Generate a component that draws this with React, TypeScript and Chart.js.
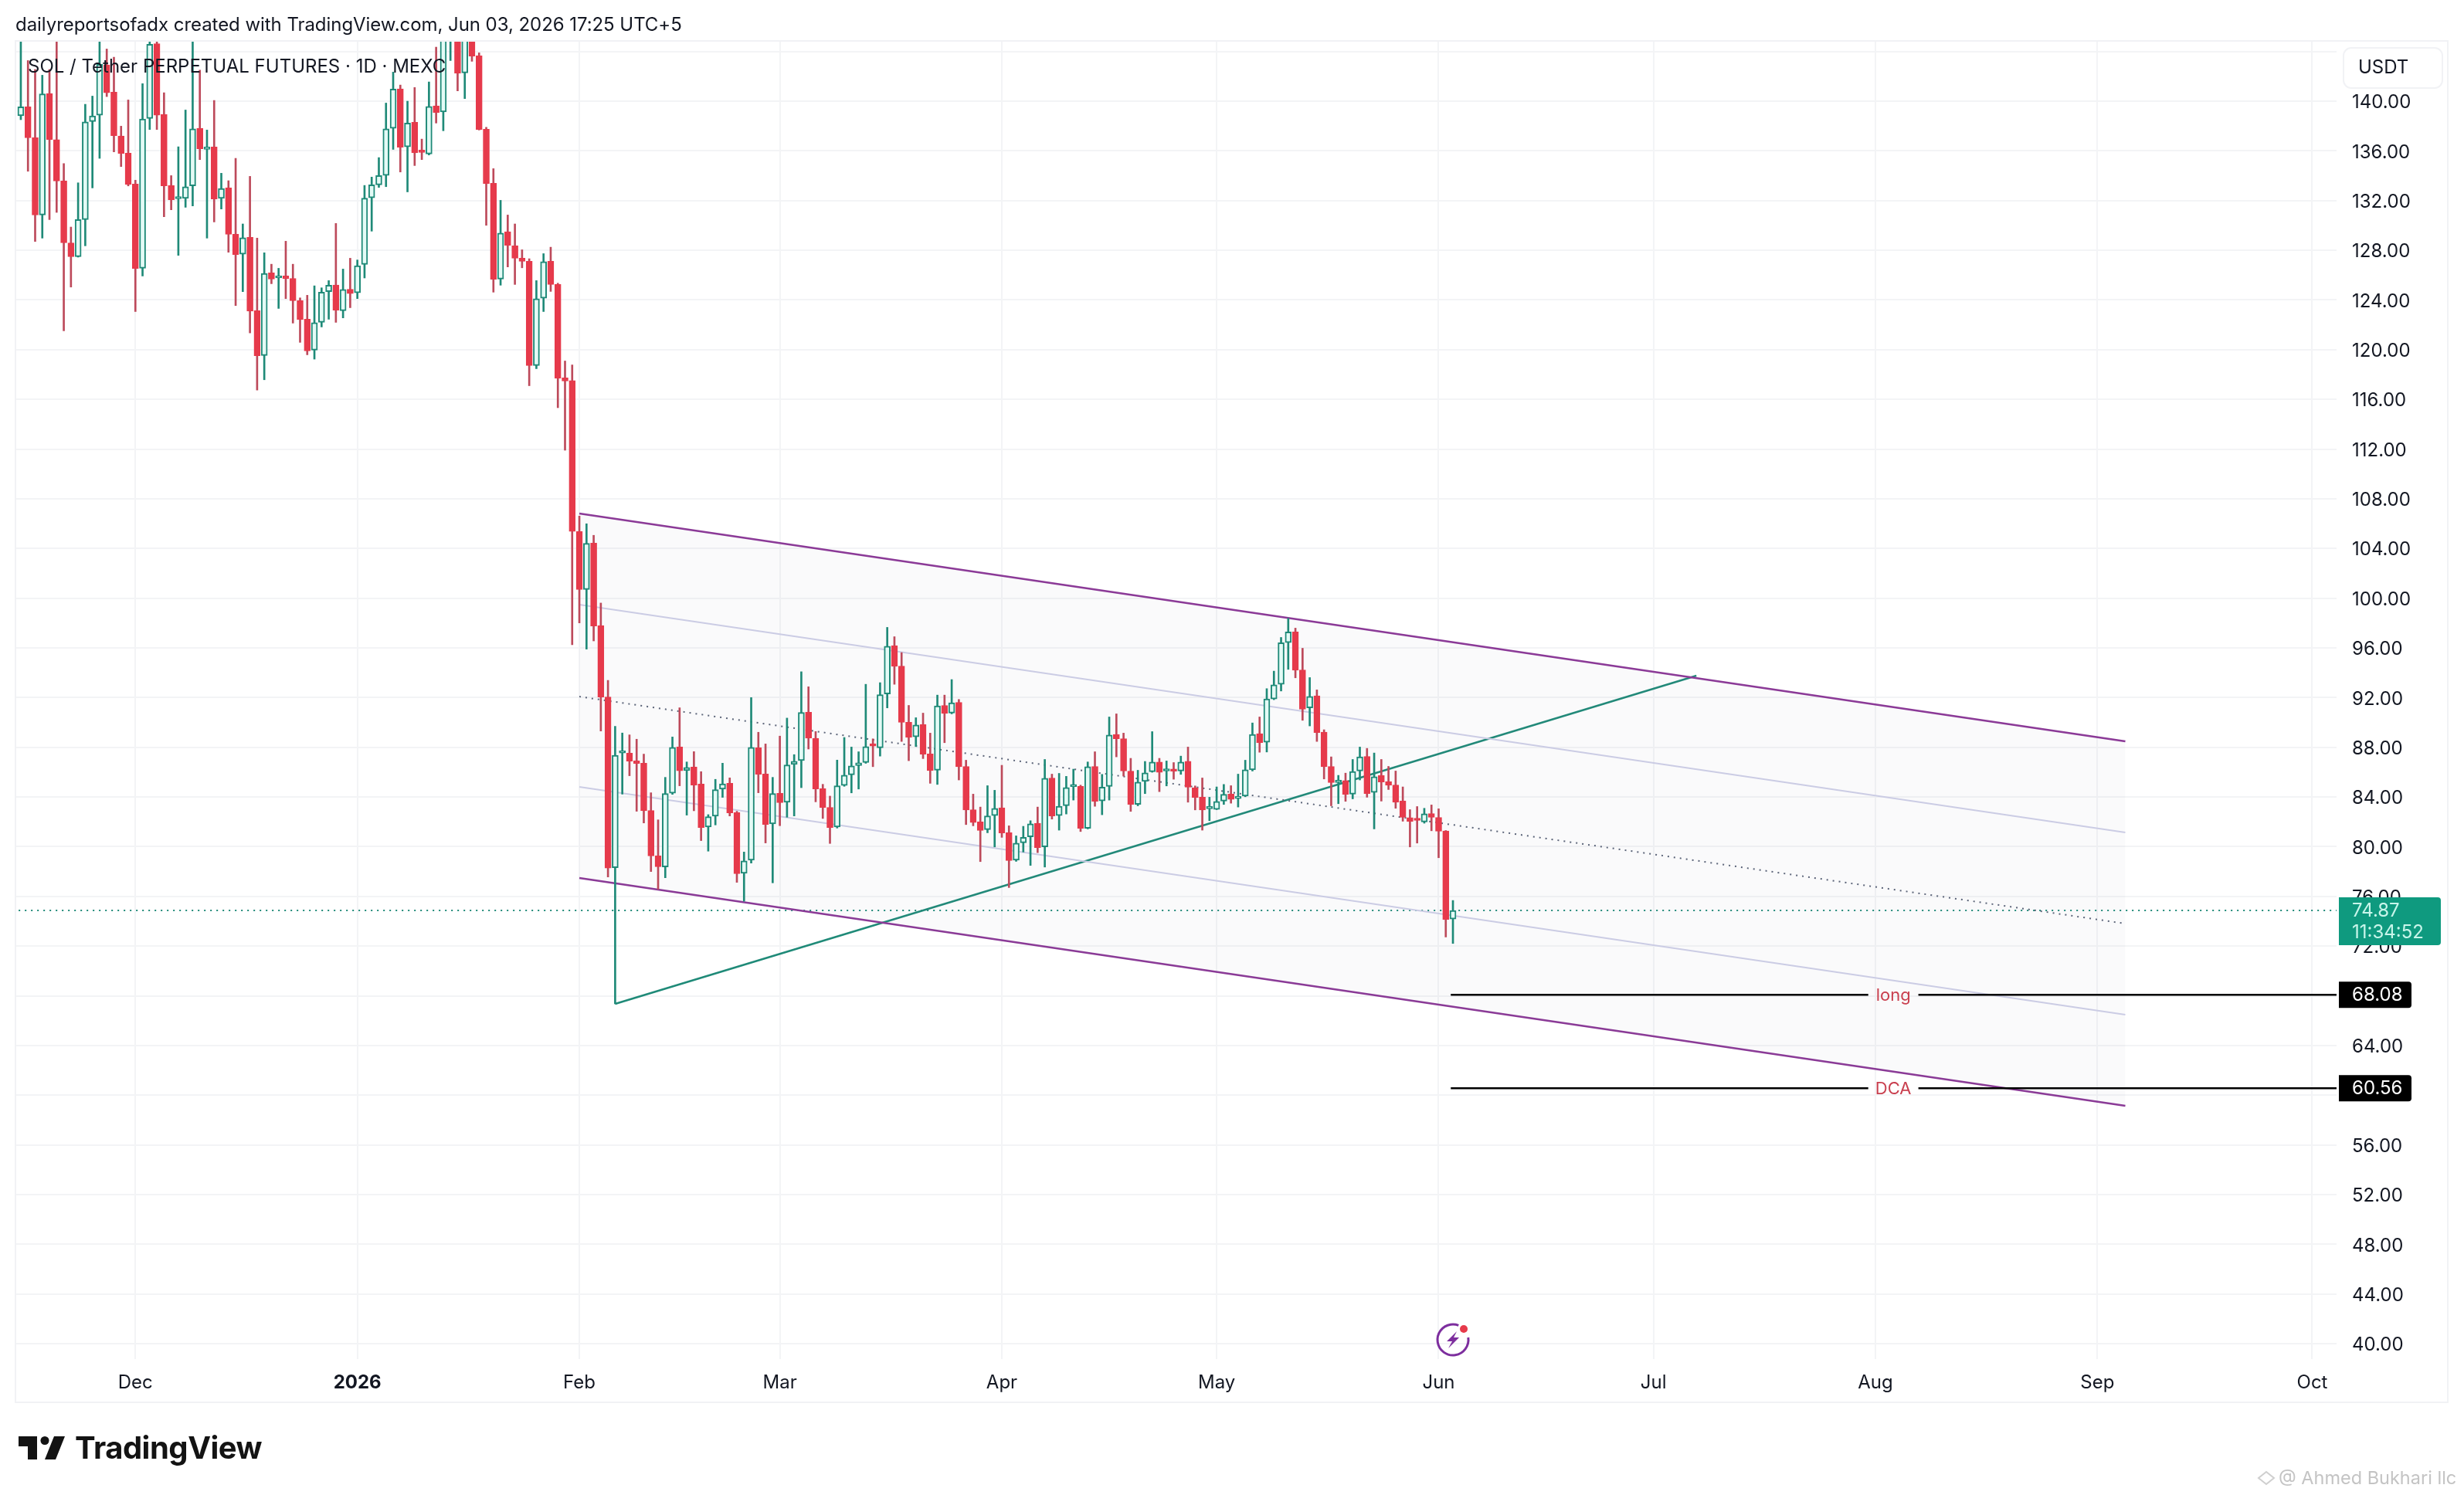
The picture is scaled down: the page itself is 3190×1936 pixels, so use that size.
import React, { useEffect, useRef } from "react";
import { Chart, registerables } from "chart.js";

Chart.register(...registerables);

// days are counted from Feb 1 2026, first candle sits 78 days before it
const firstDay = -78;

const opens = [
  138.82, 139.54, 137.06, 130.84, 140.62, 136.91, 133.58, 128.6, 127.49, 130.47, 138.36, 138.88, 142.92, 140.72, 137.2, 135.81, 133.33, 126.55, 138.61, 144.62,
  138.92, 133.2, 132.14, 132.17, 133.18, 137.8, 136.12, 136.31, 132.17, 133.02, 129.29, 127.69, 129.04, 123.14, 119.53, 126.18, 125.77, 125.93, 125.74, 123.94, 122.45,
  119.97, 122.2, 124.67, 125.21, 123.14, 124.87, 124.58, 126.86, 132.23, 133.27, 134.03, 137.82, 140.99, 136.33, 138.3, 135.92, 135.75, 139.63, 139.13, 146.8, 147.5, 142.28, 147, 143.66, 137.74, 133.39, 125.68, 129.49, 128.36, 127.36, 127.11, 118.72, 124.15, 127.11, 125.25, 117.73, 117.52,
  105.37, 100.7, 104.43, 97.8, 92.05, 78.31, 87.53, 87.53, 86.91, 86.72,
  82.91, 79.26, 78.37, 84.3, 88.02, 86.12, 86.41, 85.04, 81.58, 82.45,
  84.63, 85.1, 82.74, 77.85, 78.91, 87.96, 85.85, 81.83, 84.3, 83.57,
  86.62, 86.93, 90.82, 88.73, 84.67, 83.16, 81.58, 84.92, 85.78, 86.53,
  86.77, 88.14, 87.95, 92.29, 96.18, 94.54, 90.01, 88.85, 89.82, 87.46,
  86.15, 91.37, 90.75, 91.62, 86.46, 82.98, 81.99, 81.37, 82.51, 83.13,
  81.12, 78.92, 80.31, 80.79, 81.88, 79.98, 85.53, 82.51, 83.29, 84.83,
  84.85, 81.47, 86.46, 83.69, 84.85, 89.03, 88.7, 86.09, 83.4, 85.26,
  86.03, 86.82, 86.09, 86.13, 86.09, 86.88, 84.74, 83.98, 83.05, 83.0,
  83.67, 84.23, 83.87, 84.08, 86.19, 89.09, 88.41, 91.89, 93.07, 96.43,
  97.28, 94.23, 91.17, 92.14, 89.22, 86.46, 85.16, 85.32, 84.23, 86.09,
  87.27, 84.37, 85.72, 85.24, 84.97, 83.67, 82.34, 82.17, 81.99, 82.67,
  82.36, 81.27, 74.18,
];

const highs = [
  145.5, 143.27, 142.55, 142.09, 142.55, 145.5, 134.98, 129.87, 133.43, 139.75, 140.41, 145.5, 144.2, 143.54, 137.99, 140.1, 133.64, 141.41, 145.5, 145.5,
  140.68, 134.01, 136.33, 139.29, 145.5, 142.5, 137.68, 140.06, 134.2, 133.6, 135.4, 130.12, 133.95, 128.98, 127.8, 126.88, 126.55, 128.73, 126.88, 124.17, 124.38,
  125.14, 124.98, 125.56, 130.16, 126.49, 127.36, 127.22, 133.22, 133.89, 135.46, 139.85, 142.34, 141.3, 140.0, 141.1, 136.95, 141.55, 144.35, 147.5, 149, 149.5, 149, 148, 143.89, 137.9, 134.57, 132.02, 130.84, 130.12, 128.04, 127.32, 125.56, 127.73, 128.25, 125.35, 119.09, 118.78,
  106.61, 105.99, 105.06, 99.61, 93.39, 89.68, 89.15, 89.0, 88.65, 87.45,
  84.34, 82.16, 85.58, 88.83, 91.18, 86.82, 87.65, 86.04, 82.58, 85.42,
  86.72, 85.54, 82.85, 79.57, 92.0, 89.21, 88.27, 85.58, 88.9, 90.35,
  87.41, 94.08, 92.87, 89.27, 85.02, 84.07, 86.97, 88.79, 88.02, 87.64,
  93.07, 88.68, 93.2, 97.65, 96.9, 95.62, 91.37, 90.38, 90.75, 89.14,
  92.2, 92.2, 93.45, 91.85, 86.96, 84.23, 83.19, 84.91, 84.54, 86.55,
  81.68, 80.87, 81.64, 82.09, 83.19, 87.02, 85.84, 85.9, 85.66, 86.24,
  84.95, 86.82, 87.64, 85.82, 90.44, 90.69, 89.14, 87.11, 86.15, 86.86,
  89.26, 87.11, 86.9, 86.77, 87.29, 88.02, 84.89, 85.53, 83.98, 84.81,
  85.01, 84.91, 85.84, 86.96, 89.96, 90.44, 92.72, 94.13, 96.84, 98.38,
  97.59, 95.97, 93.61, 92.62, 89.41, 87.23, 85.74, 85.92, 87.02, 88.02,
  87.91, 87.54, 87.02, 86.46, 86.09, 84.81, 82.98, 83.23, 83.09, 83.36,
  83.05, 81.3, 75.67,
];

const lows = [
  138.51, 134.36, 128.71, 128.98, 130.47, 131.05, 121.52, 125.04, 127.45, 128.36, 133.02, 135.4, 140.37, 135.92, 134.74, 133.18, 123.07, 125.93, 137.72, 137.72,
  130.7, 131.26, 127.59, 131.46, 131.57, 135.3, 128.98, 130.28, 131.32, 127.84, 123.55, 124.67, 121.35, 116.75, 117.58, 125.31, 123.32, 124.11, 122.14, 120.59, 119.59,
  119.24, 121.83, 122.45, 122.2, 122.56, 123.38, 124.11, 125.77, 129.54, 133.06, 133.12, 136.12, 134.3, 132.7, 134.82, 135.3, 135.67, 138.24, 137.62, 143.27, 140.83, 140.21, 143.21, 137.68, 130.01, 124.63, 125.19, 126.66, 125.25, 126.59, 117.1, 118.47, 123.07, 124.69, 115.33, 111.91, 96.25,
  98.01, 95.9, 96.56, 89.31, 77.56, 67.35, 84.23, 85.71, 82.85, 81.91,
  78.0, 76.57, 77.5, 84.21, 84.9, 82.54, 82.89, 80.49, 79.64, 81.75,
  83.97, 82.47, 77.13, 75.61, 78.68, 84.34, 80.3, 77.09, 81.69, 82.37,
  82.47, 84.75, 87.86, 83.61, 82.27, 80.26, 81.5, 84.86, 84.33, 84.64,
  86.71, 86.44, 87.29, 91.17, 93.07, 88.47, 86.92, 88.06, 87.09, 85.1,
  85.01, 88.37, 90.69, 85.37, 81.78, 81.68, 78.8, 81.12, 79.98, 80.75,
  76.71, 78.82, 79.57, 78.49, 79.52, 78.36, 82.22, 81.33, 82.63, 83.75,
  81.22, 81.43, 83.25, 82.57, 83.75, 87.23, 85.68, 82.84, 83.29, 84.27,
  85.99, 84.43, 84.89, 85.43, 85.82, 83.58, 82.96, 81.33, 82.09, 82.98,
  83.4, 83.5, 83.19, 84.02, 86.09, 87.6, 87.62, 91.83, 92.53, 94.27,
  93.59, 90.17, 89.72, 88.47, 85.45, 83.29, 83.46, 83.65, 83.85, 85.37,
  83.98, 81.43, 83.67, 84.6, 83.09, 82.05, 79.98, 80.29, 81.89, 81.28,
  79.11, 72.73, 72.21,
];

const closes = [
  139.54, 137.06, 130.84, 140.58, 136.91, 133.58, 128.6, 127.49, 130.47, 138.34, 138.82, 142.96, 140.68, 137.22, 135.79, 133.29, 126.53, 138.57, 144.58, 138.88,
  133.18, 132.06, 132.17, 133.12, 137.78, 136.17, 136.31, 132.13, 132.97, 129.29, 127.65, 129.02, 123.11, 119.51, 126.14, 125.68, 125.91, 125.72, 123.94, 122.43, 119.9,
  122.18, 124.63, 125.19, 123.18, 124.85, 124.52, 126.76, 132.19, 133.27, 134.01, 137.78, 140.97, 136.29, 138.24, 135.85, 135.88, 139.58, 139.09, 146.5, 148, 142.24, 147.5, 143.62, 137.72, 133.37, 125.66, 129.39, 128.4, 127.36, 127.11, 118.72, 124.11, 127.09, 125.25, 117.69, 117.48, 105.38,
  100.7, 104.41, 97.76, 92.05, 78.27, 87.36, 87.59, 86.89, 86.7, 82.89,
  79.26, 78.39, 84.28, 88.0, 86.1, 86.37, 84.96, 81.54, 82.41, 84.59,
  85.06, 82.72, 77.83, 78.85, 88.0, 85.83, 81.79, 84.28, 83.55, 86.58,
  86.87, 90.8, 88.73, 84.65, 83.16, 81.54, 84.9, 85.75, 86.5, 86.75,
  88.06, 88.1, 92.24, 96.14, 94.52, 90.01, 88.8, 89.8, 87.44, 86.13,
  91.33, 90.73, 91.58, 86.44, 82.96, 81.95, 81.31, 82.47, 83.09, 81.1,
  78.88, 80.29, 80.75, 81.84, 79.92, 85.51, 82.47, 83.25, 84.76, 84.91,
  81.47, 86.44, 83.65, 84.79, 88.99, 88.68, 86.09, 83.4, 85.2, 85.95,
  86.82, 85.99, 86.13, 86.07, 86.82, 84.79, 83.96, 82.96, 83.13, 83.65,
  84.21, 83.81, 84.02, 86.19, 89.03, 88.37, 91.89, 93.03, 96.41, 97.28,
  94.21, 91.06, 92.1, 89.18, 86.44, 85.16, 85.26, 84.21, 86.05, 87.23,
  84.27, 85.63, 85.2, 84.95, 83.58, 82.36, 82.03, 82.11, 82.65, 82.36,
  81.24, 74.14, 74.87,
];

const monthDays = [-62, -31, 0, 28, 59, 89, 120, 150, 181, 212, 242];
const monthLabels = ["Dec", "2026", "Feb", "Mar", "Apr", "May", "Jun", "Jul", "Aug", "Sep", "Oct"];
const priceTicks = [40, 44, 48, 52, 56, 60, 64, 68, 72, 76, 80, 84, 88, 92, 96, 100, 104, 108, 112, 116, 120, 124, 128, 132, 136, 140, 144];
// these sit behind the currency box and the price tags in the original
const hiddenPriceLabels = [60, 68, 144];

// drawings on the chart
const channelDays = [0, 215.9];
const channelTop = [106.81, 88.48];
const channelUpperMid = [99.48, 81.14];
const channelMid = [92.08, 73.81];
const channelLowerMid = [84.81, 66.48];
const channelBottom = [77.48, 59.14];
const trendDays = [5, 156];
const trendPrices = [67.35, 93.76];
const lastPrice = 74.87;
const countdown = "11:34:52";
const longPrice = 68.08;
const dcaPrice = 60.56;
const rayDays = [121.7, 180, 187, 245.4];
const labelDay = 183.5;
const badgeDay = 122;

const FONT = "Inter, sans-serif";
const TEXT = "#131722";
const UP = "#1f8a78";
const UP_FILL = "#e4fbf6";
const DOWN = "#e63a4b";
const DOWN_WICK = "#bd4a5b";
const GRID = "#f3f4f6";

const days = opens.map((_, i) => firstDay + i);

const linePoints = (xs: number[], ys: number[]) => xs.map((x, i) => ({ x, y: ys[i] }));

const rayPoints = (price: number) => [
  { x: rayDays[0], y: price },
  { x: rayDays[1], y: price },
  { x: (rayDays[1] + rayDays[2]) / 2, y: null },
  { x: rayDays[2], y: price },
  { x: rayDays[3], y: price },
];

const lineStyle = {
  type: "line" as const,
  pointRadius: 0,
  tension: 0,
  fill: false,
  order: 5,
};

const priceTag = (ctx: CanvasRenderingContext2D, y: number, text: string) => {
  ctx.fillStyle = "#000000";
  ctx.beginPath();
  ctx.roundRect(3028, y - 17, 94, 34, [0, 4, 4, 0]);
  ctx.fill();
  ctx.fillStyle = "#ffffff";
  ctx.fillText(text, 3045, y + 1);
};

// frame, price tags, labels and the small icon are drawn on top of the chart
const overlayPlugin = {
  id: "overlay",
  afterDraw(chart: Chart) {
    const { ctx, scales } = chart;
    const x = scales.x;
    const y = scales.y;
    ctx.save();

    ctx.strokeStyle = "#f1f2f5";
    ctx.lineWidth = 2;
    ctx.strokeRect(20, 53, 3149, 1763);

    ctx.font = `22px ${FONT}`;
    ctx.textBaseline = "middle";
    ctx.textAlign = "center";
    ctx.fillStyle = "#c9404f";
    ctx.fillText("long", x.getPixelForValue(labelDay), y.getPixelForValue(longPrice) + 1);
    ctx.fillText("DCA", x.getPixelForValue(labelDay), y.getPixelForValue(dcaPrice) + 1);

    ctx.font = `24px ${FONT}`;
    ctx.textAlign = "left";
    const lastY = y.getPixelForValue(lastPrice);
    ctx.fillStyle = "#0f9a7f";
    ctx.beginPath();
    ctx.roundRect(3028, lastY - 17, 132, 62, [0, 4, 4, 0]);
    ctx.fill();
    ctx.fillStyle = "#c8f5ea";
    ctx.fillText(lastPrice.toFixed(2), 3045, lastY + 1);
    ctx.fillText(countdown, 3045, lastY + 29);

    priceTag(ctx, y.getPixelForValue(longPrice), longPrice.toFixed(2));
    priceTag(ctx, y.getPixelForValue(dcaPrice), dcaPrice.toFixed(2));

    // currency box
    ctx.fillStyle = "#ffffff";
    ctx.strokeStyle = "#f1f2f5";
    ctx.lineWidth = 2;
    ctx.beginPath();
    ctx.roundRect(3034, 62, 128, 52, 10);
    ctx.fill();
    ctx.stroke();
    ctx.fillStyle = TEXT;
    ctx.fillText("USDT", 3053, 88);

    // lightning badge
    const cx = x.getPixelForValue(badgeDay);
    const cy = y.getPixelForValue(40) - 5;
    ctx.strokeStyle = "#7d2e9e";
    ctx.lineWidth = 3;
    ctx.beginPath();
    ctx.arc(cx, cy, 20, -0.15, -1.15 + Math.PI * 2 - 0.05);
    ctx.stroke();
    ctx.fillStyle = "#7d2e9e";
    ctx.beginPath();
    ctx.moveTo(cx + 5, cy - 11);
    ctx.lineTo(cx - 8, cy + 2);
    ctx.lineTo(cx - 1, cy + 2);
    ctx.lineTo(cx - 6, cy + 11);
    ctx.lineTo(cx + 8, cy - 3);
    ctx.lineTo(cx + 1, cy - 3);
    ctx.closePath();
    ctx.fill();
    ctx.fillStyle = "#e63a4b";
    ctx.beginPath();
    ctx.arc(cx + 14, cy - 14, 5, 0, Math.PI * 2);
    ctx.fill();

    ctx.restore();
  },
};

const App = () => {
  const canvasRef = useRef<HTMLCanvasElement>(null);

  useEffect(() => {
    document.body.style.margin = "0";
    if (!canvasRef.current) return;

    const chart = new Chart(canvasRef.current, {
      type: "bar",
      plugins: [overlayPlugin],
      data: {
        datasets: [
          {
            ...lineStyle,
            data: linePoints(channelDays, channelTop),
            borderColor: "#8b3a97",
            borderWidth: 2.5,
            fill: { target: 4 },
            backgroundColor: "rgba(120,123,160,0.04)",
          },
          { ...lineStyle, data: linePoints(channelDays, channelUpperMid), borderColor: "#cfd0e8", borderWidth: 2 },
          { ...lineStyle, data: linePoints(channelDays, channelMid), borderColor: "#5b6478", borderWidth: 2, borderDash: [2, 6] },
          { ...lineStyle, data: linePoints(channelDays, channelLowerMid), borderColor: "#cfd0e8", borderWidth: 2 },
          { ...lineStyle, data: linePoints(channelDays, channelBottom), borderColor: "#8b3a97", borderWidth: 2.5 },
          { ...lineStyle, data: linePoints(trendDays, trendPrices), borderColor: UP, borderWidth: 2.5 },
          {
            ...lineStyle,
            data: linePoints([rayDays[0] - 200, rayDays[3]], [lastPrice, lastPrice]),
            borderColor: "#1f8a78",
            borderWidth: 2,
            borderDash: [2, 6],
          },
          { ...lineStyle, data: rayPoints(longPrice), borderColor: "#000000", borderWidth: 2.5, spanGaps: false, order: 0 },
          { ...lineStyle, data: rayPoints(dcaPrice), borderColor: "#000000", borderWidth: 2.5, spanGaps: false, order: 0 },
          {
            type: "bar",
            data: days.map((x, i) => ({ x, y: [lows[i], highs[i]] })),
            backgroundColor: days.map((_, i) => (closes[i] >= opens[i] ? UP : DOWN_WICK)),
            barThickness: 2,
            grouped: false,
            order: 2,
          },
          {
            type: "bar",
            data: days.map((x, i) => ({ x, y: [opens[i], closes[i]] })),
            backgroundColor: days.map((_, i) => (closes[i] >= opens[i] ? UP_FILL : DOWN)),
            borderColor: days.map((_, i) => (closes[i] >= opens[i] ? UP : DOWN)),
            borderWidth: 2,
            borderSkipped: false,
            barThickness: 8,
            minBarLength: 3,
            grouped: false,
            order: 1,
          },
        ],
      },
      options: {
        responsive: false,
        animation: false,
        devicePixelRatio: 1,
        layout: { padding: { left: 20, top: 53, right: 0, bottom: 0 } },
        plugins: {
          legend: { display: false },
          tooltip: { enabled: false },
        },
        scales: {
          x: {
            type: "linear",
            position: "bottom",
            min: -78.75,
            max: 245.4,
            offset: false,
            afterFit: (scale) => {
              scale.height = 176;
            },
            afterBuildTicks: (scale) => {
              scale.ticks = monthDays.map((value) => ({ value }));
            },
            grid: { color: GRID, lineWidth: 2, offset: false, drawTicks: false },
            border: { display: false },
            ticks: {
              autoSkip: false,
              maxRotation: 0,
              padding: 16,
              color: TEXT,
              font: (ctx) => ({ family: FONT, size: 24, weight: ctx.tick?.value === -31 ? "bold" : "normal" }),
              callback: (value) => monthLabels[monthDays.indexOf(Number(value))],
            },
          },
          y: {
            type: "linear",
            position: "right",
            min: 38.76,
            max: 144.85,
            afterFit: (scale) => {
              scale.width = 165;
            },
            afterBuildTicks: (scale) => {
              scale.ticks = priceTicks.map((value) => ({ value }));
            },
            grid: { color: GRID, lineWidth: 2, drawTicks: false },
            border: { display: false },
            ticks: {
              autoSkip: false,
              padding: 20,
              labelOffset: 2,
              color: TEXT,
              font: { family: FONT, size: 24 },
              callback: (value) => (hiddenPriceLabels.includes(Number(value)) ? "" : Number(value).toFixed(2)),
            },
          },
        },
      },
    });

    return () => {
      chart.destroy();
    };
  }, []);

  const textStyle: React.CSSProperties = {
    position: "absolute",
    fontFamily: FONT,
    whiteSpace: "nowrap",
    color: TEXT,
    lineHeight: 1,
  };

  return (
    <div style={{ position: "relative", width: 3190, height: 1936, background: "#ffffff", overflow: "hidden" }}>
      <canvas ref={canvasRef} width={3190} height={1936} style={{ display: "block", width: 3190, height: 1936 }} />
      <div style={{ ...textStyle, left: 20, top: 20, fontSize: 24, letterSpacing: -0.055 }}>
        dailyreportsofadx created with TradingView.com, Jun 03, 2026 17:25 UTC+5
      </div>
      <div style={{ ...textStyle, left: 36, top: 74, fontSize: 24 }}>SOL / Tether PERPETUAL FUTURES · 1D · MEXC</div>
      <svg style={{ position: "absolute", left: 24, top: 1860 }} width={60} height={31} viewBox="0 0 60 31">
        <path d="M0 0H24V30H12V13H0Z" fill="#131313" />
        <circle cx={34} cy={5.5} r={5.5} fill="#131313" />
        <path d="M46 0H60L48 30H34Z" fill="#131313" />
      </svg>
      <div style={{ ...textStyle, left: 97, top: 1855, fontSize: 40, fontWeight: 700, color: "#131313", letterSpacing: -0.5 }}>
        TradingView
      </div>
      <svg style={{ position: "absolute", left: 2922, top: 1904 }} width={24} height={20} viewBox="0 0 24 20">
        <path d="M12 2L22 10L12 18L2 10Z" fill="none" stroke="#cfcfcf" strokeWidth={2} />
      </svg>
      <div style={{ ...textStyle, left: 2950, top: 1902, fontSize: 23.5, color: "#c4c4c4" }}>@ Ahmed Bukhari llc</div>
    </div>
  );
};

export default App;
